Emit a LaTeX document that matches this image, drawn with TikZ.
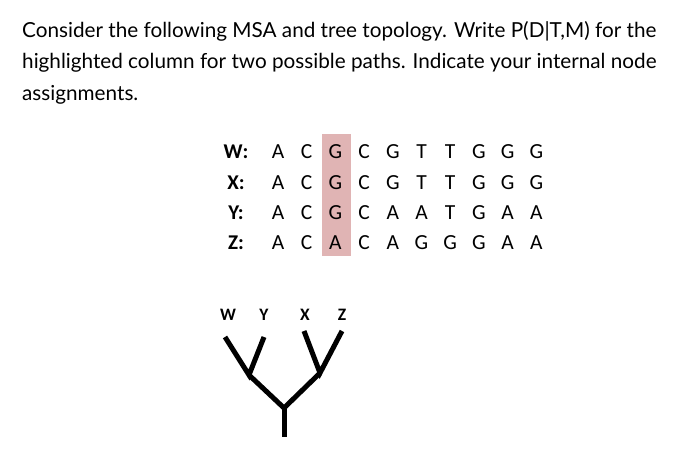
\documentclass[tikz,border=0pt]{standalone}
\usepackage{fontspec}
\setmainfont{Lato}
\newfontfamily\carfont{Carlito}
\definecolor{hl}{HTML}{E0B4B4}
\begin{document}
\begin{tikzpicture}[x=1pt,y=-1pt,
  ttl/.style={anchor=west,inner sep=0,font=\fontsize{20.7}{24}\selectfont},
  lab/.style={inner sep=0,font=\carfont\bfseries\fontsize{21}{24}\selectfont},
  seq/.style={inner sep=0,font=\carfont\fontsize{21.5}{24}\selectfont},
  tlab/.style={inner sep=0,font=\carfont\bfseries\fontsize{17.5}{20}\selectfont},
  br/.style={line width=5pt}]
\useasboundingbox (0,0) rectangle (700,455);
\node[ttl] (t1) at (22,31) {Consider the following MSA and tree topology. Write P(D|T,M) for the};
\node[ttl] (t2) at (22,63) {highlighted column for two possible paths. Indicate your internal node};
\node[ttl] (t3) at (22,95) {assignments.};
\fill[hl] (322,134) rectangle (351,256);
\foreach \n/\s/\y in {W/{A,C,G,C,G,T,T,G,G,G}/152, X/{A,C,G,C,G,T,T,G,G,G}/183, Y/{A,C,G,C,A,A,T,G,A,A}/213, Z/{A,C,A,C,A,G,G,G,A,A}/243}{
  \node[lab] (l\n) at (236,\y) {\n:};
  \foreach \c [count=\i] in \s {
    \node[seq] (s\n\i) at ({278+28.7*(\i-1)},\y) {\c};
  }
}
\node[tlab] (nW) at (228,315) {W};
\node[tlab] (nY) at (264,315) {Y};
\node[tlab] (nX) at (305,315) {X};
\node[tlab] (nZ) at (342,315) {Z};
\coordinate (tW) at (225,337);
\coordinate (tY) at (264,337);
\coordinate (tX) at (304,331);
\coordinate (tZ) at (342,331);
\coordinate (iL) at (249,375);
\coordinate (iR) at (320,373);
\coordinate (rt) at (284,408);
\coordinate (bt) at (284,437);
\draw[br] (tW) -- (iL) -- (tY);
\draw[br] (tX) -- (iR) -- (tZ);
\draw[br] (iL) -- (rt) -- (iR);
\draw[br] (rt) -- (bt);
\end{tikzpicture}
\end{document}
